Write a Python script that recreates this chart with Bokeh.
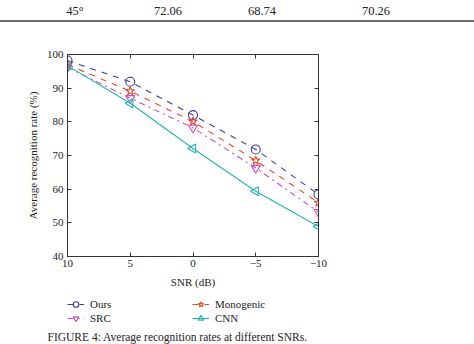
import math
from bokeh.plotting import figure
from bokeh.models import Range1d, LinearAxis, FixedTicker, Legend, LegendItem, Title, Div
from bokeh.layouts import column
from bokeh.embed import file_html
from bokeh.resources import INLINE

# ---- data ----
snr = [10, 5, 0, -5, -10]
ours = [98.2, 91.9, 82.0, 71.8, 58.4]
monogenic = [97.0, 89.1, 80.1, 68.5, 56.0]
src = [96.2, 87.0, 78.2, 66.3, 53.2]
cnn = [96.7, 85.5, 72.1, 59.4, 48.9]
x_ticks = [10, 5, 0, -5, -10]
x_tick_labels = ["10", "5", "0", "\u22125", "\u221210"]
y_ticks = [40, 50, 60, 70, 80, 90, 100]
table_row = ["45\u00b0", "72.06", "68.74", "70.26"]
caption = "FIGURE 4: Average recognition rates at different SNRs."

SERIF = "Liberation Serif"
TXT = "#222222"

# ---- top strip: last row of a table and its rule ----
col_x = [75, 168, 262, 376]
spans = "".join(
    f'<span style="position:absolute;left:{cx}px;top:4px;transform:translateX(-50%);">{t}</span>'
    for cx, t in zip(col_x, table_row))
html = (f'<div style="position:relative;width:474px;height:24px;font-family:\'{SERIF}\';'
        f'font-size:12.5px;color:{TXT};line-height:14px;">{spans}'
        '<div style="position:absolute;left:0;top:20px;width:474px;height:2px;background:#6a6a6a;"></div>'
        '</div>')
top = Div(text=html, width=474, height=24, margin=0)

# ---- main chart ----
p = figure(frame_width=251, frame_height=202, x_range=Range1d(10, -10), y_range=Range1d(40, 100),
           output_backend="svg", toolbar_location=None, margin=0,
           min_border_left=67, min_border_right=156, min_border_top=30, min_border_bottom=40)
p.grid.visible = False
p.outline_line_color = "#333333"
p.outline_line_width = 1

def style_axis(ax, show_labels=True):
    ax.axis_line_color = "#333333"
    ax.major_tick_line_color = "#333333"
    ax.major_tick_in = 4
    ax.major_tick_out = 0
    ax.minor_tick_line_color = None
    ax.major_label_text_font = SERIF
    ax.major_label_text_font_size = "11px"
    ax.major_label_text_color = TXT if show_labels else None
    ax.axis_label_text_font = SERIF
    ax.axis_label_text_font_size = "11px"
    ax.axis_label_text_font_style = "normal"
    ax.axis_label_text_color = TXT

p.xaxis.ticker = FixedTicker(ticks=x_ticks)
p.xaxis.major_label_overrides = {t: l for t, l in zip(x_ticks, x_tick_labels)}
p.yaxis.ticker = FixedTicker(ticks=y_ticks)
p.xaxis.axis_label = "SNR (dB)"
p.yaxis.axis_label = "Average recognition rate (%)"
style_axis(p.xaxis[0])
style_axis(p.yaxis[0])
p.xaxis.major_label_standoff = 3
p.yaxis.major_label_standoff = 4
p.xaxis.axis_label_standoff = 6
p.yaxis.axis_label_standoff = 5

ax_top = LinearAxis(ticker=FixedTicker(ticks=x_ticks))
style_axis(ax_top, show_labels=False)
p.add_layout(ax_top, "above")
ax_right = LinearAxis(ticker=FixedTicker(ticks=y_ticks))
style_axis(ax_right, show_labels=False)
p.add_layout(ax_right, "right")

series = [
    ("Ours", ours, "#3d3a9c", "dashed", "circle", 0),
    ("Monogenic", monogenic, "#e8482c", "dashed", "star", 0),
    ("SRC", src, "#c94fbf", "dashdot", "inverted_triangle", 0),
    ("CNN", cnn, "#27b3b3", "solid", "triangle", math.pi / 2),
]

# ---- legend + caption strip (own figure so nothing is clipped) ----
# its ranges lie outside the data, so the proxy glyphs only appear in the legend
q = figure(frame_width=251, frame_height=28, x_range=Range1d(1000, 1001), y_range=Range1d(1000, 1001),
           x_axis_type=None, y_axis_type=None, output_backend="svg", toolbar_location=None,
           margin=0, min_border_left=67, min_border_right=156, min_border_top=1,
           min_border_bottom=19)
q.grid.visible = False
q.outline_line_color = None

items = {}
for name, ys, color, dash, marker, ang in series:
    p.line(snr, ys, line_color=color, line_width=1.1, line_dash=dash)
    p.scatter(snr, ys, marker=marker, size=9, angle=ang, line_color=color,
              fill_color=None, line_width=1.1)
    ln = q.line(snr, ys, line_color=color, line_width=1.1, line_dash=dash)
    sc = q.scatter(snr, ys, marker=marker, size=8, angle=ang, line_color=color,
                   fill_color=None, line_width=1.1)
    items[name] = LegendItem(label=name, renderers=[ln, sc])

legend = Legend(items=[items["Ours"], items["SRC"], items["Monogenic"], items["CNN"]],
                ncols=2, location="top_left", padding=0, margin=0,
                spacing=0, glyph_width=17, glyph_height=14, label_height=14, label_width=102,
                label_standoff=6, border_line_color=None, background_fill_alpha=0,
                label_text_font=SERIF, label_text_font_size="11px", label_text_color=TXT)
q.add_layout(legend, "center")

q.add_layout(Title(text=caption, align="left", offset=-20, standoff=6,
                   text_font=SERIF, text_font_size="11.5px", text_font_style="normal",
                   text_color=TXT), "below")

layout = column(top, p, q, spacing=0)
open("out.html", "w").write(file_html(layout, INLINE))
